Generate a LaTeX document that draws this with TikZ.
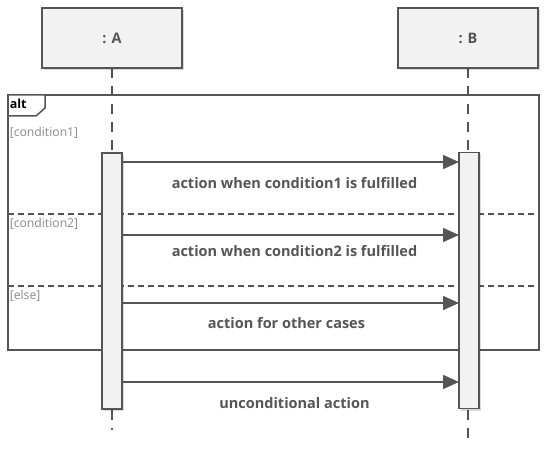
\documentclass[tikz,border=0pt]{standalone}
\usepackage{fontspec}
\setmainfont{Open Sans}
\usetikzlibrary{shadows,arrows.meta}
\definecolor{ln}{HTML}{555555}
\definecolor{bx}{HTML}{F2F2F2}
\definecolor{gr}{HTML}{8A8A8A}
\begin{document}
\begin{tikzpicture}[x=1pt,y=-1pt,
  line width=1.5pt,
  shad/.style={drop shadow={shadow xshift=2pt,shadow yshift=-2pt,opacity=0.15,fill=black}},
  part/.style={draw=ln,fill=bx,shad,minimum width=140pt,minimum height=60pt,inner sep=0pt,font=\fontsize{14.5}{17}\selectfont\bfseries,text=ln},
  actbar/.style={draw=ln,fill=bx,shad,minimum width=20pt,inner sep=0pt},
  lifel/.style={draw=ln,line width=1.5pt,dash pattern=on 10pt off 8pt},
  msg/.style={draw=ln,line width=1.5pt,-{Triangle[length=16pt,width=14pt]}},
  msglab/.style={font=\fontsize{14.5}{17}\selectfont\bfseries,text=ln},
  guard/.style={font=\fontsize{12.2}{14}\selectfont,text=gr,anchor=west,inner sep=0pt},
  sep/.style={draw=ln,line width=1.2pt,dash pattern=on 6pt off 4pt}
]
\useasboundingbox (0,0) rectangle (549,449);
% lifelines
\coordinate (aTop) at (112,68);
\coordinate (bTop) at (468,68);
\coordinate (aEnd) at (112,430);
\coordinate (bEnd) at (468,438);
\draw[lifel] (aTop) -- (aEnd);
\draw[lifel] (bTop) -- (bEnd);
% alt frame
\coordinate (fTL) at (8,95);
\coordinate (fBR) at (539,350);
\draw[draw=ln] (fTL) rectangle (fBR);
\draw[draw=ln,fill=white] (8,95) -- (45,95) -- (45,108) -- (36,116) -- (8,116) -- cycle;
\node[anchor=west,inner sep=0pt,font=\fontsize{12.5}{14}\selectfont\bfseries,text=black] (altlab) at (9,104) {alt};
\coordinate (s1L) at (8,214); \coordinate (s1R) at (539,214);
\coordinate (s2L) at (8,286); \coordinate (s2R) at (539,286);
\draw[sep] (s1L) -- (s1R);
\draw[sep] (s2L) -- (s2R);
\node[guard] (g1) at (9,133) {[condition1]};
\node[guard] (g2) at (9,224) {[condition2]};
\node[guard] (g3) at (9,296) {[else]};
% participants
\node[part] (A) at (112,38) {: A};
\node[part] (B) at (468,38) {: B};
% activation bars
\node[actbar,minimum height=256pt] (actA) at (112,281) {};
\node[actbar,minimum height=256pt] (actB) at (469,280.5) {};
% messages
\foreach \y [count=\i] in {162,235,303,382}{
  \coordinate (m\i s) at (122,\y);
  \coordinate (m\i e) at (459,\y);
  \draw[msg] (m\i s) -- (m\i e);
}
\node[msglab] (l1) at (294.5,183) {action when condition1 is fulfilled};
\node[msglab] (l2) at (294.5,251) {action when condition2 is fulfilled};
\node[msglab] (l3) at (286.5,323) {action for other cases};
\node[msglab] (l4) at (294.5,403) {unconditional action};
\end{tikzpicture}
\end{document}
